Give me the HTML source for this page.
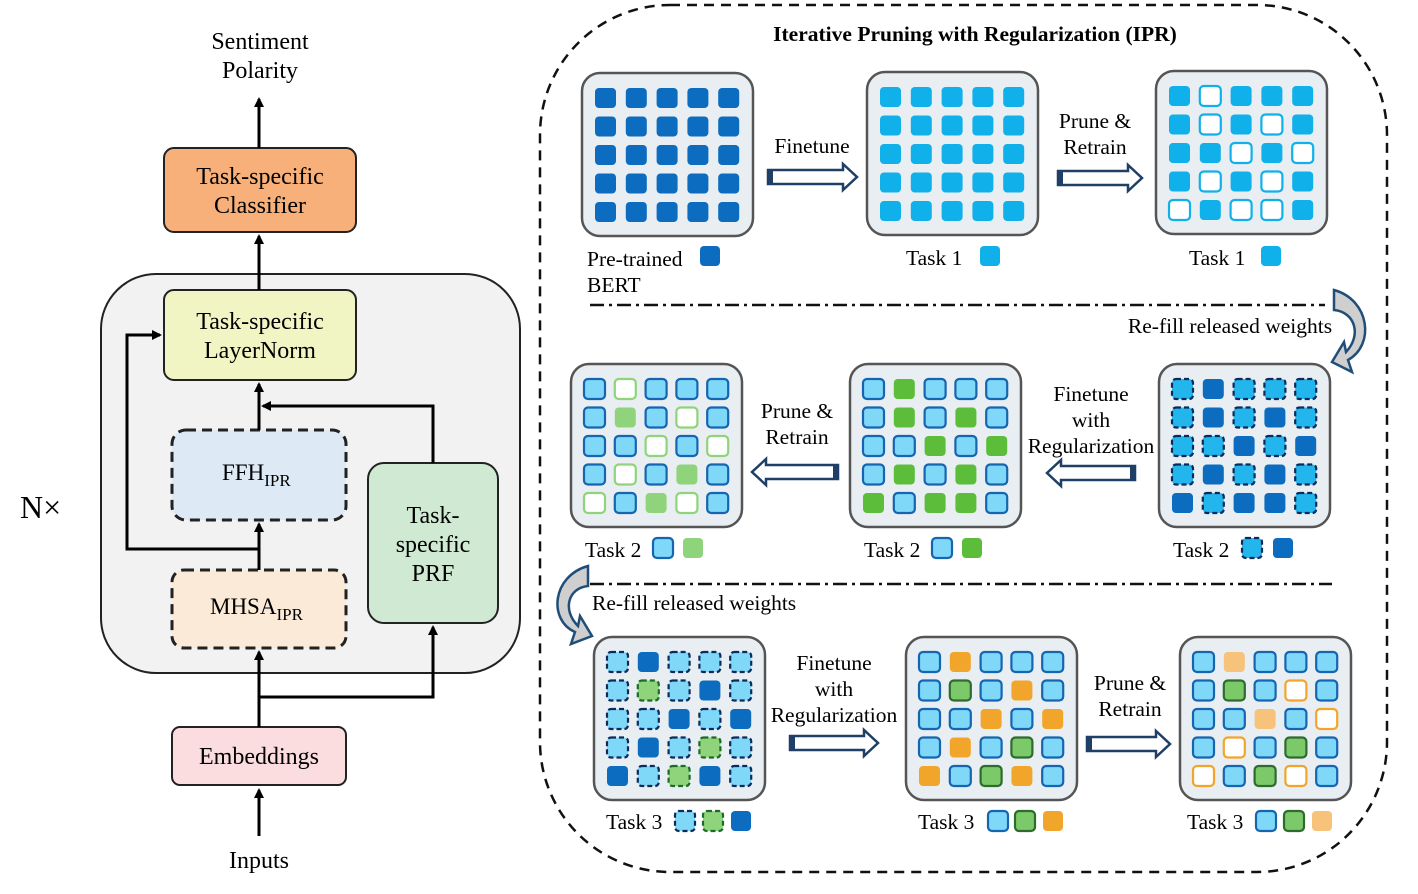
<!DOCTYPE html>
<html><head><meta charset="utf-8">
<style>
html,body{margin:0;padding:0;background:#fff;}
svg{display:block;font-family:"Liberation Serif",serif;}
</style></head>
<body>
<svg id="s" width="1418" height="894" viewBox="0 0 1418 894" xmlns="http://www.w3.org/2000/svg">
<defs>
<marker id="ah" markerWidth="10" markerHeight="10" refX="8" refY="5" orient="auto" markerUnits="userSpaceOnUse">
<path d="M0,0 L10,5 L0,10 z" fill="#000"/></marker>
</defs>
<!-- LEFT -->
<rect x="101" y="274" width="419" height="399" rx="55" fill="#f2f2f2" stroke="#222" stroke-width="2"/>
<rect x="164" y="148" width="192" height="84" rx="10" fill="#f7b07a" stroke="#222" stroke-width="2"/>
<text x="260" y="184" font-size="24" text-anchor="middle">Task-specific</text>
<text x="260" y="213" font-size="24" text-anchor="middle">Classifier</text>
<rect x="164" y="290" width="192" height="90" rx="10" fill="#f1f5c4" stroke="#222" stroke-width="2"/>
<text x="260" y="329" font-size="24" text-anchor="middle">Task-specific</text>
<text x="260" y="358" font-size="24" text-anchor="middle">LayerNorm</text>
<rect x="172" y="430" width="174" height="90" rx="14" fill="#dde9f5" stroke="#222" stroke-width="3" stroke-dasharray="10,6"/>
<text x="222" y="480" font-size="23">FFH<tspan font-size="17" dy="6">IPR</tspan></text>
<rect x="172" y="570" width="174" height="78" rx="12" fill="#fbead7" stroke="#222" stroke-width="3" stroke-dasharray="10,6"/>
<text x="210" y="614" font-size="23">MHSA<tspan font-size="17" dy="6">IPR</tspan></text>
<rect x="368" y="463" width="130" height="160" rx="16" fill="#cfe9d2" stroke="#222" stroke-width="2"/>
<text x="433" y="523" font-size="24" text-anchor="middle">Task-</text>
<text x="433" y="552" font-size="24" text-anchor="middle">specific</text>
<text x="433" y="581" font-size="24" text-anchor="middle">PRF</text>
<rect x="172" y="727" width="174" height="58" rx="8" fill="#fbdde0" stroke="#222" stroke-width="2"/>
<text x="259" y="764" font-size="24" text-anchor="middle">Embeddings</text>
<text x="259" y="868" font-size="24" text-anchor="middle">Inputs</text>
<text x="260" y="49" font-size="24" text-anchor="middle">Sentiment</text>
<text x="260" y="78" font-size="24" text-anchor="middle">Polarity</text>
<text x="20" y="518" font-size="32">N×</text>
<g stroke="#000" stroke-width="3" fill="none">
<line x1="259" y1="836" x2="259" y2="790" marker-end="url(#ah)"/>
<line x1="259" y1="727" x2="259" y2="652" marker-end="url(#ah)"/>
<polyline points="259,697 433,697 433,627" marker-end="url(#ah)"/>
<line x1="259" y1="570" x2="259" y2="524" marker-end="url(#ah)"/>
<polyline points="259,549 127,549 127,335 160,335" marker-end="url(#ah)"/>
<line x1="259" y1="430" x2="259" y2="384" marker-end="url(#ah)"/>
<polyline points="433,463 433,406 263,406" marker-end="url(#ah)"/>
<line x1="259" y1="290" x2="259" y2="236" marker-end="url(#ah)"/>
<line x1="259" y1="148" x2="259" y2="99" marker-end="url(#ah)"/>
</g>
<!-- RIGHT -->
<rect x="540" y="5" width="847" height="867" rx="130" fill="none" stroke="#111" stroke-width="2.5" stroke-dasharray="10,7"/>
<text x="975" y="41" font-size="21.5" font-weight="bold" text-anchor="middle">Iterative Pruning with Regularization (IPR)</text>
<line x1="590" y1="305" x2="1325" y2="305" stroke="#111" stroke-width="2.5" stroke-dasharray="14,5,3,5"/>
<line x1="590" y1="584" x2="1332" y2="584" stroke="#111" stroke-width="2.5" stroke-dasharray="14,5,3,5"/>
<g id="grids"></g>
<g font-size="21.5">
<text x="812" y="153" text-anchor="middle">Finetune</text>
<text x="1095" y="128" text-anchor="middle">Prune &amp;</text>
<text x="1095" y="154" text-anchor="middle">Retrain</text>
<text x="587" y="266">Pre-trained</text>
<text x="587" y="292">BERT</text>
<text x="906" y="265">Task 1</text>
<text x="1189" y="265">Task 1</text>
<text x="1230" y="333" text-anchor="middle">Re-fill released weights</text>
<text x="797" y="418" text-anchor="middle">Prune &amp;</text>
<text x="797" y="444" text-anchor="middle">Retrain</text>
<text x="1091" y="401" text-anchor="middle">Finetune</text>
<text x="1091" y="427" text-anchor="middle">with</text>
<text x="1091" y="453" text-anchor="middle">Regularization</text>
<text x="585" y="557">Task 2</text>
<text x="864" y="557">Task 2</text>
<text x="1173" y="557">Task 2</text>
<text x="592" y="610">Re-fill released weights</text>
<text x="834" y="670" text-anchor="middle">Finetune</text>
<text x="834" y="696" text-anchor="middle">with</text>
<text x="834" y="722" text-anchor="middle">Regularization</text>
<text x="1130" y="690" text-anchor="middle">Prune &amp;</text>
<text x="1130" y="716" text-anchor="middle">Retrain</text>
<text x="606" y="829">Task 3</text>
<text x="918" y="829">Task 3</text>
<text x="1187" y="829">Task 3</text>
</g>
<g id="arrows"></g>
<!-- curved arrows -->
<path d="M1334,290 C1370,300 1375,345 1348,360 L1352,372 L1332,362 L1344,342 L1346,352 C1362,335 1355,312 1334,310 Z" fill="#cfcfcf" stroke="#1f4e79" stroke-width="2.5"/>
<path d="M588,566 C552,576 548,620 575,632 L571,644 L592,636 L580,616 L578,626 C562,610 568,588 588,586 Z" fill="#cfcfcf" stroke="#1f4e79" stroke-width="2.5"/>
</svg>
<script>
var NS="http://www.w3.org/2000/svg";
function el(t,a,p){var e=document.createElementNS(NS,t);for(var k in a)e.setAttribute(k,a[k]);(p||document.getElementById('grids')).appendChild(e);return e;}
var S={
D:{f:"#0b6cc0",s:"none"},
B:{f:"#10b0ea",s:"none"},
W:{f:"#fff",s:"#10b0ea"},
L:{f:"#7fd8f8",s:"#1565b0"},
w:{f:"#fff",s:"#8fd47a"},
g:{f:"#8fd47a",s:"none"},
G:{f:"#5bbd3a",s:"none"},
X:{f:"#22b6ec",s:"#0d2a5c",d:1},
Y:{f:"#7fd8f8",s:"#0d2a5c",d:1},
Z:{f:"#8fd47a",s:"#1d6b2a",d:1},
O:{f:"#f2a52b",s:"none"},
o:{f:"#f7c27a",s:"none"},
q:{f:"#fff",s:"#f2a52b"},
H:{f:"#7cc96a",s:"#2e6b2e"}
};
function cell(x,y,w,h,t,p){var c=S[t];var a={x:x,y:y,width:w,height:h,rx:4,fill:c.f};
 if(c.s!="none"){a.stroke=c.s;a["stroke-width"]=2.2;if(c.d)a["stroke-dasharray"]="5,3";}
 el('rect',a,p);}
var boxes=[
[582,73,"DDDDD DDDDD DDDDD DDDDD DDDDD"],
[867,72,"BBBBB BBBBB BBBBB BBBBB BBBBB"],
[1156,71,"BWBBB BWBWB BBWBW BWBWB WBWWB"],
[571,364,"LwLLL LgLwL LLwLw LwLgL wLgwL"],
[850,364,"LGLLL LGLGL LLGLG LGLGL GLGGL"],
[1159,364,"XDXXX XDXDX XXDXD XDXDX DXDDX"],
[594,637,"YDYYY YZYDY YYDYD YDYZY DYZDY"],
[906,637,"LOLLL LHLOL LLOLO LOLHL OLHOL"],
[1180,637,"LoLLL LHLqL LLoLq LqLHL qLHqL"]];
boxes.forEach(function(b){
 el('rect',{x:b[0],y:b[1],width:171,height:163,rx:18,fill:"#e9eef3",stroke:"#555","stroke-width":2.5});
 var rows=b[2].split(" ");
 for(var r=0;r<5;r++)for(var c=0;c<5;c++)cell(b[0]+13+c*30.8,b[1]+15+r*28.5,21,20,rows[r][c]);
});
var leg=[[700,246,"D"],[980,246,"B"],[1261,246,"B"],[653,538,"L"],[683,538,"g"],[932,538,"L"],[962,538,"G"],[1242,538,"X"],[1273,538,"D"],
[675,811,"Y"],[703,811,"Z"],[731,811,"D"],[988,811,"L"],[1015,811,"H"],[1043,811,"O"],[1256,811,"L"],[1284,811,"H"],[1312,811,"o"]];
leg.forEach(function(l){cell(l[0],l[1],20,20,l[2]);});
var A=document.getElementById('arrows');
function arrow(x1,x2,y,dir){
 var h=7,hh=13,hl=14;var pts;
 if(dir>0){pts=[[x1,y-h],[x2-hl,y-h],[x2-hl,y-hh],[x2,y],[x2-hl,y+hh],[x2-hl,y+h],[x1,y+h]];}
 else{pts=[[x2,y-h],[x1+hl,y-h],[x1+hl,y-hh],[x1,y],[x1+hl,y+hh],[x1+hl,y+h],[x2,y+h]];}
 el('polygon',{points:pts.map(function(p){return p.join(',')}).join(' '),fill:"#fff",stroke:"#1f3f66","stroke-width":2.5},A);
 var bx=dir>0?x1:x2-5;el('rect',{x:bx,y:y-h,width:5,height:2*h,fill:"#1f3f66"},A);
}
arrow(768,857,177,1);arrow(1058,1142,178,1);
arrow(752,838,472,-1);arrow(1047,1135,473,-1);
arrow(790,878,743,1);arrow(1087,1170,744,1);
</script>
</body></html>
